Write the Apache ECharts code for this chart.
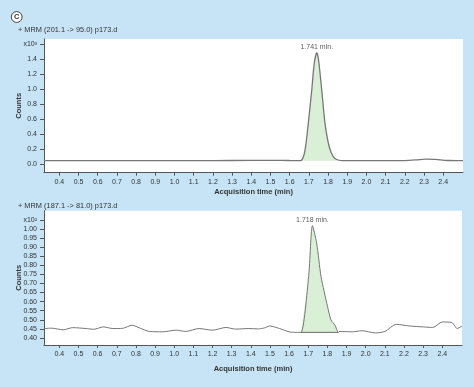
<!DOCTYPE html>
<html><head><meta charset="utf-8">
<script src="https://cdn.jsdelivr.net/npm/echarts@6/dist/echarts.min.js"></script>
<style>html,body{margin:0;padding:0;background:#c6e4f6;}#c{width:474px;height:387px;}</style>
</head><body><div id="c"></div>
<script>
// ---- data ----
const panelTitles = ['+ MRM (201.1 -> 95.0) p173.d', '+ MRM (187.1 -> 81.0) p173.d'];
const xTickLabels = ['0.4','0.5','0.6','0.7','0.8','0.9','1.0','1.1','1.2','1.3','1.4','1.5','1.6','1.7','1.8','1.9','2.0','2.1','2.2','2.3','2.4'];
const xAxisName = 'Acquisition time (min)';
const yAxisName = 'Counts';

const topYTickLabels = ['0.0','0.2','0.4','0.6','0.8','1.0','1.2','1.4'];
const topMultiplier = 'x10³';
const topMultiplierAt = 1.6;
const topTime   = [0.32, 0.50, 0.80, 1.00, 1.20, 1.40, 1.50, 1.60, 1.650, 1.662, 1.680, 1.697, 1.715, 1.728, 1.741, 1.750, 1.767, 1.784, 1.806, 1.827, 1.845, 1.871, 1.95, 2.10, 2.20, 2.26, 2.31, 2.36, 2.42, 2.503];
const topCounts = [0.045,0.045,0.045,0.045,0.046,0.048,0.050,0.047,0.046,0.050,0.187,0.544,0.990,1.346,1.488,1.400,0.990,0.544,0.231,0.098,0.060,0.046,0.045,0.045,0.046,0.055,0.066,0.062,0.047,0.045];
const topPeakRange = [1.662, 1.871];
const topPeakBase = 0.045;
const topPeakTime = 1.741, topPeakCounts = 1.488, topPeakLabel = '1.741 min.';

const botYTickLabels = ['0.40','0.45','0.50','0.55','0.60','0.65','0.70','0.75','0.80','0.85','0.90','0.95','1.00'];
const botMultiplier = 'x10²';
const botMultiplierAt = 1.05;
const botTime   = [0.32,0.36,0.42,0.47,0.54,0.58,0.63,0.68,0.73,0.78,0.82,0.87,0.94,1.01,1.06,1.13,1.20,1.27,1.32,1.39,1.44,1.47,1.50,1.55,1.60,1.636,1.662,1.702,1.722,1.744,1.767,1.801,1.819,1.840,1.857,1.862,1.93,1.98,2.05,2.10,2.16,2.23,2.30,2.35,2.40,2.45,2.478,2.503];
const botCounts = [0.452,0.454,0.445,0.457,0.452,0.448,0.461,0.452,0.453,0.470,0.455,0.436,0.434,0.443,0.436,0.452,0.443,0.458,0.449,0.452,0.450,0.455,0.466,0.452,0.434,0.431,0.431,0.737,1.018,0.921,0.737,0.572,0.499,0.470,0.431,0.436,0.434,0.440,0.428,0.436,0.475,0.466,0.461,0.458,0.488,0.485,0.452,0.466];
const botPeakRange = [1.662, 1.857];
const botPeakBase = 0.431;
const botPeakTime = 1.722, botPeakCounts = 1.018, botPeakLabel = '1.718 min.';

// ---- chart ----
const FONT = 'Liberation Sans, Arial, sans-serif';
const TXT = '#333';
const xTicks = xTickLabels.map(Number);

function pairs(t, c){ return t.map((x,i)=>[x,c[i]]); }
function peakPart(t, c, r){ return pairs(t,c).filter(p=>p[0]>=r[0]-1e-9 && p[0]<=r[1]+1e-9); }

function xAxisCfg(gi, gap){
  return {
    gridIndex: gi, type:'value', min:0.32, max:2.503,
    name: xAxisName, nameLocation:'middle', nameGap: gap, nameMoveOverlap:false,
    nameTextStyle:{fontFamily:FONT,fontSize:7.5,fontWeight:'bold',color:TXT},
    axisLine:{show:true,onZero:false,lineStyle:{color:'#555',width:1}},
    axisTick:{show:true,length:3,customValues:xTicks,lineStyle:{color:'#555'}},
    axisLabel:{customValues:xTicks,margin:6,fontFamily:FONT,fontSize:7,color:TXT,formatter:v=>v.toFixed(1)},
    splitLine:{show:false}
  };
}
function yAxisCfg(gi, min, max, labels, multAt, mult, dec){
  const vals = labels.map(Number).concat([multAt]);
  return {
    gridIndex: gi, type:'value', min:min, max:max,
    name: yAxisName, nameLocation:'middle', nameGap: 21, nameRotate: 90, nameMoveOverlap:false,
    nameTextStyle:{fontFamily:FONT,fontSize:7.5,fontWeight:'bold',color:TXT},
    axisLine:{show:true,onZero:false,lineStyle:{color:'#555',width:1}},
    axisTick:{show:true,length:4,customValues:vals,lineStyle:{color:'#555'}},
    axisLabel:{customValues:vals,margin:7,fontFamily:FONT,fontSize:7,color:TXT,
      formatter:v=> Math.abs(v-multAt)<1e-9 ? mult : v.toFixed(dec)},
    splitLine:{show:false}
  };
}
function traceSeries(gi, data, w){
  return {type:'line', xAxisIndex:gi, yAxisIndex:gi, data:data, symbol:'none', smooth:0.25,
    lineStyle:{color:'#777',width:w}, z:3, silent:true};
}
function peakSeries(gi, data, base){
  return {type:'line', xAxisIndex:gi, yAxisIndex:gi, data:data, symbol:'none', smooth:0.25,
    lineStyle:{width:0}, areaStyle:{color:'#d9efd6',opacity:1,origin:base}, z:2, silent:true};
}
function labelSeries(gi, x, y, txt){
  return {type:'scatter', xAxisIndex:gi, yAxisIndex:gi, data:[[x,y]], symbolSize:0, silent:true,
    label:{show:true,position:'top',distance:2,formatter:txt,fontFamily:FONT,fontSize:7,color:TXT}, z:5};
}

const topPeak = peakPart(topTime, topCounts, topPeakRange);
const botPeak = peakPart(botTime, botCounts, botPeakRange);

const option = {
  backgroundColor:'#c6e4f6',
  animation:false,
  grid:[
    {left:44, right:11, top:39, height:133.7, show:true, backgroundColor:'#ffffff', borderWidth:0},
    {left:44, right:12, top:210.7, height:134.3, show:true, backgroundColor:'#ffffff', borderWidth:0}
  ],
  xAxis:[xAxisCfg(0,15), xAxisCfg(1,20)],
  yAxis:[
    yAxisCfg(0, -0.116, 1.671, topYTickLabels, topMultiplierAt, topMultiplier, 1),
    yAxisCfg(1, 0.3615, 1.10, botYTickLabels, botMultiplierAt, botMultiplier, 2)
  ],
  graphic:[
    {type:'circle', shape:{cx:16.7, cy:17, r:5.4}, style:{fill:'#fff', stroke:'#444', lineWidth:1}},
    {type:'text', x:16.7, y:17.3, style:{text:'C', fontFamily:FONT, fontSize:7.5, fontWeight:'bold', fill:'#333', align:'center', verticalAlign:'middle'}},
    {type:'text', x:18, y:29.5, style:{text:panelTitles[0], fontFamily:FONT, fontSize:7.4, fill:TXT, verticalAlign:'middle'}},
    {type:'text', x:18, y:206.2, style:{text:panelTitles[1], fontFamily:FONT, fontSize:7.4, fill:TXT, verticalAlign:'middle'}}
  ],
  series:[
    peakSeries(0, topPeak, topPeakBase),
    traceSeries(0, pairs(topTime, topCounts), 1.3),
    labelSeries(0, topPeakTime, topPeakCounts, topPeakLabel),
    peakSeries(1, botPeak, botPeakBase),
    traceSeries(1, pairs(botTime, botCounts), 1),
    {type:'line', xAxisIndex:1, yAxisIndex:1, data:[[botPeakRange[0],botPeakBase],[botPeakRange[1],botPeakBase]],
      symbol:'none', lineStyle:{color:'#6a6a6a',width:1}, z:4, silent:true},
    labelSeries(1, botPeakTime, botPeakCounts, botPeakLabel)
  ]
};
echarts.init(document.getElementById('c')).setOption(option);
</script></body></html>
